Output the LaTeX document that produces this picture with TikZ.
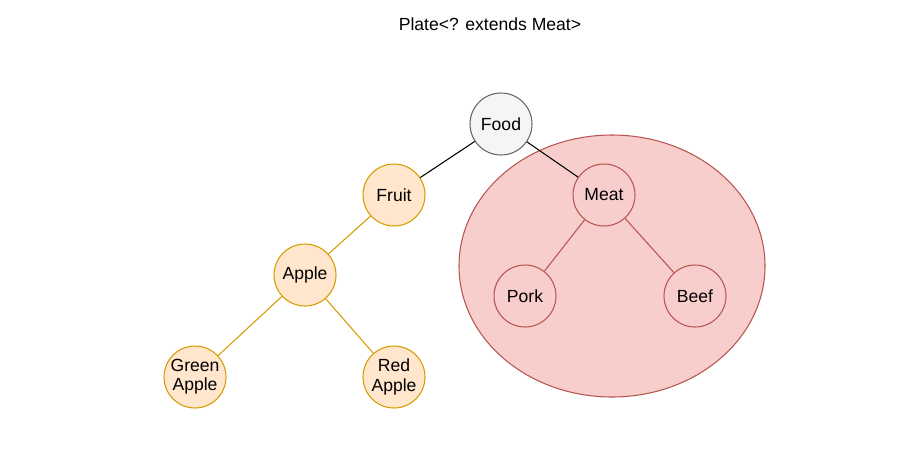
\documentclass[tikz,border=0pt]{standalone}
\usepackage{fontspec}
\setmainfont{Liberation Sans}

\definecolor{fruitfill}{HTML}{FFE6CC}
\definecolor{fruitline}{HTML}{D79B00}
\definecolor{meatfill}{HTML}{F8CECC}
\definecolor{meatline}{HTML}{B85450}
\definecolor{rootfill}{HTML}{F5F5F5}
\definecolor{rootline}{HTML}{666666}

\begin{document}
\begin{tikzpicture}[x= 0.02cm, y= -0.02cm,
	every node/.style= {font= \fontsize{10}{11}\selectfont},
	ball/.style= {circle, draw, line width= 0.6pt, minimum size= 1.24cm, inner sep= 0pt, align= center},
	rootball/.style= {ball, fill= rootfill, draw= rootline},
	fruitball/.style= {ball, fill= fruitfill, draw= fruitline},
	meatball/.style= {ball, fill= meatfill, draw= meatline},
	link/.style= {line width= 0.6pt}]
	\useasboundingbox (0, 0) rectangle (913, 450);

	\node (title) at (490, 24) {Plate<? extends Meat>};

	%Meatの範囲
	\filldraw[fill= meatfill, draw= meatline, line width= 0.6pt](612, 266) ellipse [x radius= 153, y radius= 131];

	\node[rootball] (food) at (501, 124) {Food};
	\node[fruitball] (fruit) at (394, 195) {Fruit};
	\node[meatball] (meat) at (604, 195) {Meat};
	\node[fruitball] (apple) at (305, 275) {Apple};
	\node[meatball] (pork) at (525, 296) {Pork};
	\node[meatball] (beef) at (695, 296) {Beef};
	\node[fruitball] (green) at (195, 377) {Green\\Apple};
	\node[fruitball] (red) at (394, 377) {Red\\Apple};

	\draw[link](food)-- (fruit); %Food- Fruit
	\draw[link](food)-- (meat); %Food- Meat
	\draw[link, fruitline](fruit)-- (apple);
	\draw[link, fruitline](apple)-- (green);
	\draw[link, fruitline](apple)-- (red);
	\draw[link, meatline](meat)-- (pork);
	\draw[link, meatline](meat)-- (beef);
\end{tikzpicture}
\end{document}
